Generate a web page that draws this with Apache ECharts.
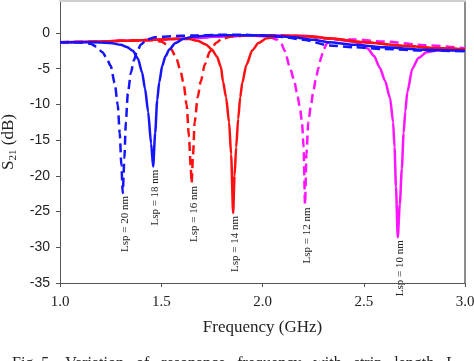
<!DOCTYPE html>
<html><head><meta charset="utf-8">
<script src="https://cdn.jsdelivr.net/npm/echarts@6/dist/echarts.min.js"></script>
<style>html,body{margin:0;padding:0;background:#fff}#c{width:474px;height:361px}</style>
</head><body><div id="c"></div>
<script>
// Lsp = 20 nm (blue dashed)
const f20 = [1.00,1.05,1.10,1.15,1.18,1.21,1.23,1.25,1.27,1.285,1.295,1.303,1.31,1.318,1.325,1.335,1.35,1.365,1.38,1.40,1.43,1.47,1.55,1.65,1.80,1.90,2.00,2.10,2.20,2.33,2.45,2.60,2.80,3.00];
const s20 = [-1.30,-1.30,-1.32,-1.5,-1.9,-2.7,-3.5,-4.6,-7.0,-10.0,-14.0,-18.5,-22.4,-17.5,-12.5,-8.5,-5.6,-3.8,-2.6,-1.6,-0.9,-0.6,-0.45,-0.35,-0.25,-0.25,-0.35,-0.55,-0.95,-1.75,-2.0,-2.25,-2.45,-2.55];
// Lsp = 18 nm (blue solid)
const f18 = [1.00,1.10,1.20,1.25,1.30,1.33,1.36,1.385,1.405,1.42,1.435,1.45,1.46,1.47,1.48,1.49,1.505,1.52,1.54,1.57,1.61,1.66,1.75,1.85,1.95,2.05,2.15,2.25,2.33,2.45,2.60,2.80,3.00];
const s18 = [-1.30,-1.30,-1.32,-1.4,-1.65,-1.95,-2.5,-3.6,-5.5,-7.8,-11.0,-15.5,-18.7,-14.0,-9.4,-6.9,-4.6,-3.3,-2.3,-1.4,-0.8,-0.5,-0.35,-0.3,-0.3,-0.4,-0.6,-0.95,-1.3,-1.65,-2.0,-2.35,-2.5];
// Lsp = 16 nm (red dashed)
const f16 = [1.00,1.10,1.20,1.30,1.40,1.46,1.50,1.53,1.55,1.575,1.595,1.61,1.625,1.637,1.645,1.65,1.657,1.665,1.68,1.695,1.715,1.74,1.77,1.80,1.85,1.95,2.05,2.20,2.33,2.50,2.70,2.85,3.00];
const s16 = [-1.30,-1.25,-1.2,-1.1,-1.0,-1.0,-1.2,-1.7,-2.3,-3.6,-5.3,-7.0,-10.0,-14.5,-18.5,-21.0,-17.0,-12.5,-9.0,-6.8,-4.4,-2.6,-1.4,-0.8,-0.5,-0.3,-0.3,-0.45,-0.8,-1.3,-1.8,-2.1,-2.3];
// Lsp = 14 nm (red solid)
const f14 = [1.00,1.10,1.20,1.30,1.40,1.50,1.58,1.64,1.68,1.72,1.75,1.775,1.795,1.805,1.82,1.835,1.845,1.855,1.862,1.87,1.88,1.89,1.90,1.92,1.95,1.98,2.02,2.08,2.15,2.25,2.33,2.50,2.70,2.85,3.00];
const s14 = [-1.30,-1.25,-1.2,-1.1,-1.0,-0.9,-0.8,-0.85,-1.1,-1.6,-2.3,-3.3,-4.8,-6.8,-9.0,-12.5,-17.0,-25.2,-20.0,-16.0,-12.0,-9.0,-7.0,-4.5,-2.4,-1.4,-0.75,-0.45,-0.4,-0.5,-0.75,-1.3,-1.8,-2.1,-2.3];
// Lsp = 12 nm (magenta dashed)
const f12 = [1.00,1.20,1.40,1.60,1.80,1.95,2.03,2.07,2.09,2.11,2.135,2.155,2.17,2.185,2.195,2.203,2.21,2.217,2.226,2.24,2.25,2.265,2.276,2.29,2.30,2.32,2.36,2.45,2.60,2.80,3.00];
const s12 = [-1.30,-1.2,-1.0,-0.8,-0.5,-0.35,-0.5,-0.9,-1.3,-2.5,-4.8,-6.5,-8.3,-10.5,-12.5,-16.0,-24.0,-17.0,-12.5,-10.0,-8.3,-6.2,-4.9,-3.4,-2.4,-1.4,-0.9,-0.9,-1.2,-1.7,-2.15];
// Lsp = 10 nm (magenta solid)
const f10 = [1.00,1.20,1.40,1.60,1.80,2.00,2.20,2.33,2.45,2.49,2.52,2.55,2.58,2.605,2.63,2.645,2.652,2.659,2.668,2.678,2.688,2.697,2.705,2.715,2.74,2.77,2.81,2.86,2.93,3.00];
const s10 = [-1.30,-1.2,-1.0,-0.8,-0.5,-0.3,-0.4,-0.75,-1.2,-1.6,-2.2,-3.2,-4.9,-6.7,-9.1,-12.5,-16.0,-21.5,-28.6,-24.0,-19.0,-14.0,-11.0,-8.3,-5.0,-3.5,-2.7,-2.45,-2.4,-2.4];

const labels = ['Lsp = 20 nm','Lsp = 18 nm','Lsp = 16 nm','Lsp = 14 nm','Lsp = 12 nm','Lsp = 10 nm'];
const xTicks = [1.0,1.5,2.0,2.5,3.0];
const yTicks = [-35,-30,-25,-20,-15,-10,-5,0];

const BLUE = '#1414ff', RED = '#ff1010', MAG = '#ff14ff';
const curves = [
  {f:f10, s:s10, color:MAG, dash:false, label:labels[5]},
  {f:f12, s:s12, color:MAG, dash:true,  label:labels[4]},
  {f:f14, s:s14, color:RED, dash:false, label:labels[3]},
  {f:f16, s:s16, color:RED, dash:true,  label:labels[2]},
  {f:f18, s:s18, color:BLUE, dash:false, label:labels[1]},
  {f:f20, s:s20, color:BLUE, dash:true,  label:labels[0]}
];

const chart = echarts.init(document.getElementById('c'), null, {renderer:'canvas'});
const serif = 'Liberation Serif, Times New Roman, serif';
const sans = 'Liberation Sans, Arial, sans-serif';

const option = {
  backgroundColor:'#fff',
  animation:false,
  grid:{left:60, right:9, top:1, bottom:78, show:false, containLabel:false, outerBoundsMode:'none'},
  xAxis:[{
    type:'value', min:1, max:3, interval:0.5,
    name:'Frequency (GHz)', nameLocation:'middle', nameGap:36,
    nameTextStyle:{fontFamily:serif, fontSize:17, color:'#222'},
    axisLine:{onZero:false, lineStyle:{color:'#555', width:1}},
    axisTick:{show:true, length:4, lineStyle:{color:'#555'}, customValues:xTicks},
    axisLabel:{fontFamily:serif, fontSize:15, color:'#222', margin:12, customValues:xTicks, formatter:v=>v.toFixed(1)},
    splitLine:{show:false}
  },{
    type:'value', min:1, max:3, position:'top',
    axisLine:{onZero:false, lineStyle:{color:'#cfcfcf', width:2}},
    axisTick:{show:false}, axisLabel:{show:false}, splitLine:{show:false}
  }],
  yAxis:[{
    type:'value', min:-35, max:4.48, interval:5,
    name:'{s|S}{sub|21}{s| (dB)}', nameLocation:'middle', nameGap:40, nameRotate:90,
    nameTextStyle:{rich:{
      s:{fontFamily:serif, fontSize:17, color:'#222', lineHeight:20},
      sub:{fontFamily:serif, fontSize:11, color:'#222', lineHeight:20, verticalAlign:'bottom', padding:[8,0,0,0]}
    }},
    axisLine:{onZero:false, lineStyle:{color:'#555', width:1}},
    axisTick:{show:true, length:4, lineStyle:{color:'#555'}, customValues:yTicks},
    axisLabel:{fontFamily:sans, fontSize:14, color:'#222', margin:10, customValues:yTicks},
    splitLine:{show:false}
  },{
    type:'value', min:-35, max:4.48, position:'right',
    axisLine:{show:true, onZero:false, lineStyle:{color:'#666', width:1.5}},
    axisTick:{show:false}, axisLabel:{show:false}, splitLine:{show:false}
  }],
  series: curves.map(c => ({
    type:'line', xAxisIndex:0, yAxisIndex:0,
    data: c.f.map((x,i)=>[x, c.s[i]]),
    showSymbol:false, smooth:0.25, smoothMonotone:'x',
    lineStyle:{color:c.color, width:2.5, type: c.dash ? [9,5] : 'solid'},
    silent:true
  }))
};
chart.setOption(option);

// annotation labels placed at each curve's minimum, via the chart's own scales
const g = [];
curves.forEach(c => {
  let mi = 0;
  c.s.forEach((v,i)=>{ if (v < c.s[mi]) mi = i; });
  const p = chart.convertToPixel({gridIndex:0}, [c.f[mi], c.s[mi]]);
  g.push({
    type:'text', x:p[0]+2, y:p[1]+3, rotation:Math.PI/2,
    style:{text:c.label, fontFamily:serif, fontSize:11, fill:'#222', align:'right', verticalAlign:'middle'}
  });
});
g.push({
  type:'text', left:12, top:356,
  style:{text:'Fig. 5.   Variation   of   resonance   frequency   with   strip   length   L', fontFamily:serif, fontSize:16, fill:'#222'}
});
chart.setOption({graphic:g});
</script>
</body></html>
